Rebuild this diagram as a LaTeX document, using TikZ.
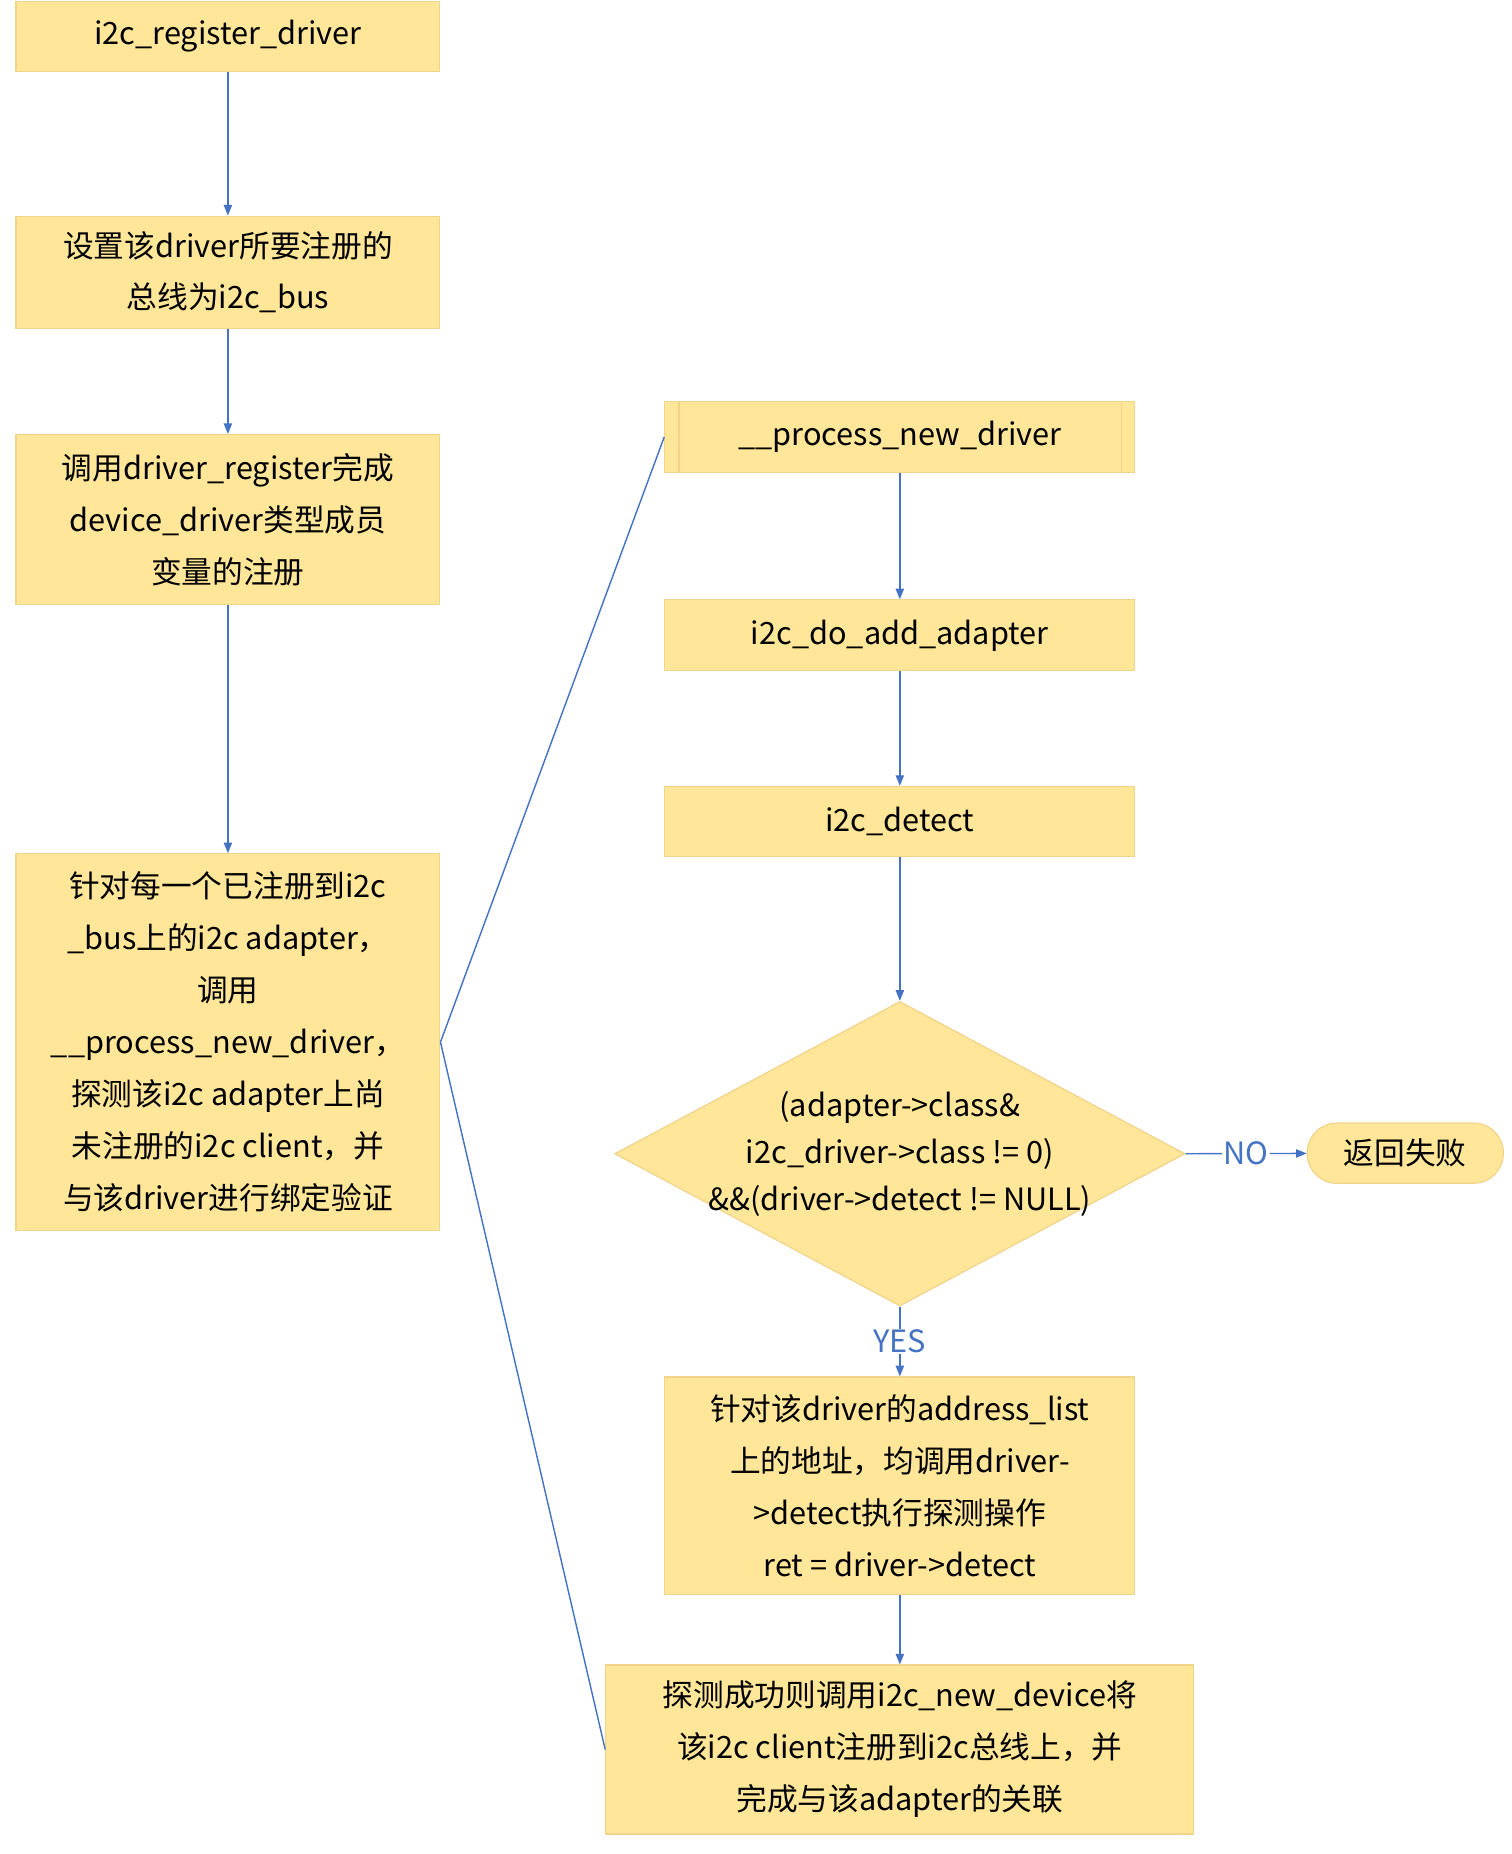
\documentclass[tikz,border=0pt]{standalone}
\usepackage{fontspec}
\setmainfont{Noto Sans CJK SC}
\usetikzlibrary{shapes.geometric,arrows.meta}
\definecolor{boxfill}{HTML}{FFE699}
\definecolor{boxline}{HTML}{F2D38A}
\definecolor{arr}{HTML}{4472C4}
\tikzset{
  bx/.style={draw=boxline,fill=boxfill,line width=1pt,align=center,inner sep=0pt,
    font=\fontsize{26}{44}\selectfont},
  con/.style={draw=arr,line width=1.2pt,-{Triangle[length=9pt,width=7pt]}},
  lin/.style={draw=arr,line width=1.2pt},
  lab/.style={text=arr,font=\fontsize{26}{30}\selectfont,fill=white,inner sep=1pt}
}
\begin{document}
\begin{tikzpicture}[x=1pt,y=-1pt]
\useasboundingbox (0,0) rectangle (1280,1570);
\node[bx,minimum width=359pt,minimum height=59pt] (A) at (193,31) {i2c\_register\_driver};
\node[bx,minimum width=359pt,minimum height=95pt] (B) at (193,230.5) {设置该driver所要注册的\\总线为i2c\_bus};
\node[bx,minimum width=359pt,minimum height=144pt] (C) at (193,440) {调用driver\_register完成\\device\_driver类型成员\\变量的注册};
\node[bx,minimum width=359pt,minimum height=319pt] (D) at (193,882.5) {针对每一个已注册到i2c\\\_bus上的i2c adapter，\\调用\\\_\_process\_new\_driver，\\探测该i2c adapter上尚\\未注册的i2c client，并\\与该driver进行绑定验证};
\node[bx,minimum width=398pt,minimum height=60pt] (E) at (762,370) {\_\_process\_new\_driver};
\draw[boxline,line width=1pt] (575,340) -- (575,400) (950,340) -- (950,400);
\node[bx,minimum width=398pt,minimum height=60pt] (F) at (762,538) {i2c\_do\_add\_adapter};
\node[bx,minimum width=398pt,minimum height=59pt] (G) at (762,695.5) {i2c\_detect};
\node[bx,diamond,minimum width=483pt,minimum height=258pt,aspect=1.87] (H) at (762,977) {};
\node[align=center,font=\fontsize{26}{40}\selectfont] at (762,977) {(adapter->class\&\\i2c\_driver->class != 0)\\\&\&(driver->detect != NULL)};
\node[bx,rounded corners=25pt,minimum width=166pt,minimum height=51pt] (I) at (1190,976.5) {返回失败};
\node[bx,minimum width=398pt,minimum height=184pt] (J) at (762,1258) {针对该driver的address\_list\\上的地址，均调用driver-\\>detect执行探测操作\\ret = driver->detect};
\node[bx,minimum width=498pt,minimum height=143pt] (K) at (762,1481.5) {探测成功则调用i2c\_new\_device将\\该i2c client注册到i2c总线上，并\\完成与该adapter的关联};
\draw[con] (A) -- (B);
\draw[con] (B) -- (C);
\draw[con] (C) -- (D);
\draw[con] (E) -- (F);
\draw[con] (F) -- (G);
\draw[con] (G) -- (H.north);
\draw[con] (H.east) -- node[lab]{NO} (I);
\draw[con] (H.south) -- node[lab,pos=0.5]{YES} (J);
\draw[con] (J) -- (K);
\draw[lin] (D.east) -- (E.west);
\draw[lin] (D.east) -- (K.west);
\end{tikzpicture}
\end{document}
